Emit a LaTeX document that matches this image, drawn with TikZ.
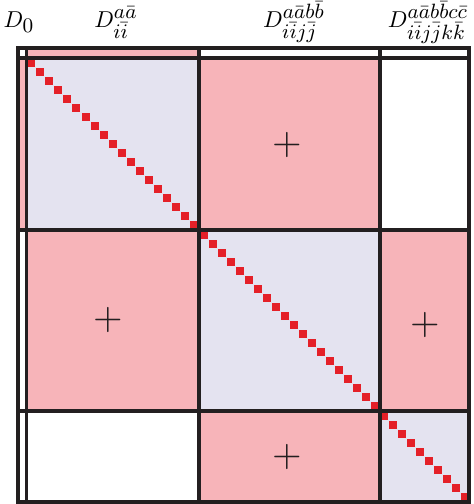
\documentclass[tikz,border=0pt]{standalone}
\DeclareMathSizes{10}{10}{9}{7}
\definecolor{pinkc}{RGB}{247,180,185}
\definecolor{lavc}{RGB}{228,227,240}
\definecolor{redc}{RGB}{228,32,40}
\definecolor{linec}{RGB}{35,31,32}
\newcommand{\bigtxt}[1]{\scalebox{2.3}{#1}}
\newcommand{\plustxt}[1]{\scalebox{3.8}{#1}}
\tikzset{
  gridl/.style={draw=linec, line width=3.3pt},
  lbl/.style={anchor=base, inner sep=0pt},
  plusmark/.style={inner sep=0pt, text=linec},
}
\begin{document}
\begin{tikzpicture}[x=1pt,y=-1pt]
\useasboundingbox (0,0) rectangle (474,504);
% block fills
\fill[pinkc] (26.5,48) rectangle (199,58);
\fill[pinkc] (18,58) rectangle (26.5,230);
\fill[lavc] (26.5,58) rectangle (199,230);
\fill[pinkc] (199,58) rectangle (380,230);
\fill[pinkc] (26.5,230) rectangle (199,411);
\fill[lavc] (199,230) rectangle (380,411);
\fill[pinkc] (380,230) rectangle (469,411);
\fill[pinkc] (199,411) rectangle (380,502);
\fill[lavc] (380,411) rectangle (469,502);
% diagonal
\foreach \xa/\ya/\xb/\yb/\n in {26.5/58/199/230/19, 199/230/380/411/20, 380/411/469/502/10} {
  \foreach \k in {1,...,\n} {
    \pgfmathsetmacro\cx{\xa+(\k-0.5)*(\xb-\xa)/\n}
    \pgfmathsetmacro\cy{\ya+(\k-0.5)*(\yb-\ya)/\n}
    \fill[redc] (\cx-4.0,\cy-4.0) rectangle (\cx+4.0,\cy+4.0);
  }
}
% grid lines
\draw[gridl] (26.5,48) -- (26.5,502);
\draw[gridl] (199,48) -- (199,502);
\draw[gridl] (380,48) -- (380,502);
\draw[gridl] (18,58) -- (469,58);
\draw[gridl] (18,230) -- (469,230);
\draw[gridl] (18,411) -- (469,411);
\draw[gridl] (18,48) rectangle (469,502);
% plus marks
\node[plusmark] (p12) at (287,145) {\plustxt{$+$}};
\node[plusmark] (p21) at (108,320) {\plustxt{$+$}};
\node[plusmark] (p23) at (425,325) {\plustxt{$+$}};
\node[plusmark] (p32) at (287,457) {\plustxt{$+$}};
% labels
\node[lbl] (l0) at (19,27) {\bigtxt{$D_0$}};
\node[lbl] (l1) at (116,27) {\bigtxt{$D^{a\bar a}_{i\bar i}$}};
\node[lbl] (l2) at (294,27) {\bigtxt{$D^{a\bar a b\bar b}_{i\bar i j\bar j}$}};
\node[lbl] (l3) at (428,27) {\bigtxt{$D^{a\bar a b\bar b c\bar c}_{i\bar i j\bar j k\bar k}$}};
\end{tikzpicture}
\end{document}
